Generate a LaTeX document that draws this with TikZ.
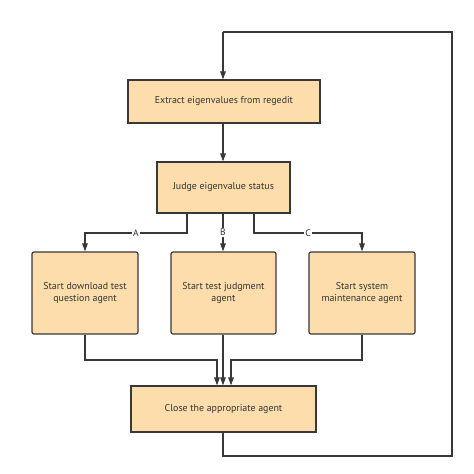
\documentclass[tikz,border=0pt]{standalone}
\usepackage{fontspec}
\setmainfont{PT Sans}
\usetikzlibrary{arrows.meta}
\definecolor{boxfill}{HTML}{FDDDAC}
\definecolor{lin}{HTML}{383838}
\definecolor{txt}{HTML}{333333}
\begin{document}
\begin{tikzpicture}[x=1pt,y=-1pt,
  box/.style={draw=lin,fill=boxfill,line width=1.2pt,text=txt,font=\fontsize{9.9}{12}\selectfont,align=center,inner sep=0pt},
  rbox/.style={box,rounded corners=2pt},
  conn/.style={draw=lin,line width=1.1pt},
  arr/.style={conn,-{Triangle[length=8pt,width=5.5pt]}},
  lab/.style={fill=white,text=txt,font=\fontsize{9.5}{11}\selectfont,inner sep=1pt}]
\useasboundingbox (0,0) rectangle (474,474);
\node[box,minimum width=192pt,minimum height=43pt] (ext) at (224,101.5) {Extract eigenvalues from regedit};
\node[box,minimum width=133pt,minimum height=51pt] (judge) at (223.5,187.5) {Judge eigenvalue status};
\node[rbox,minimum width=106pt,minimum height=82pt] (a) at (85,293) {Start download test\\question agent};
\node[rbox,minimum width=105pt,minimum height=82pt] (b) at (223.5,293) {Start test judgment\\agent};
\node[rbox,minimum width=106pt,minimum height=82pt] (c) at (362,293) {Start system\\maintenance agent};
\node[box,minimum width=185pt,minimum height=46pt] (close) at (223.5,409) {Close the appropriate agent};
\coordinate (tl) at (223,32);
\coordinate (tr) at (452,32);
\coordinate (bl) at (223,456);
\coordinate (br) at (452,456);
\draw[arr] (ext.south -| 223,0) -- (judge.north -| 223,0);
\draw[arr] (judge.south -| 187,0) |- node[lab,pos=0.75] {A} (85,233) -- (a.north);
\draw[arr] (judge.south -| 223,0) -- node[lab,pos=0.5] {B} (b.north -| 223,0);
\draw[arr] (judge.south -| 254,0) |- node[lab,pos=0.75] {C} (362,233) -- (c.north);
\draw[arr] (a.south) |- (217,360) -- (close.north -| 217,0);
\draw[arr] (b.south -| 223,0) -- (close.north -| 223,0);
\draw[arr] (c.south) |- (231,360) -- (close.north -| 231,0);
\draw[conn] (close.south -| 223,0) -- (bl) -- (br) -- (tr) -- (tl);
\draw[arr] (tl) -- (ext.north -| 223,0);
\end{tikzpicture}
\end{document}
